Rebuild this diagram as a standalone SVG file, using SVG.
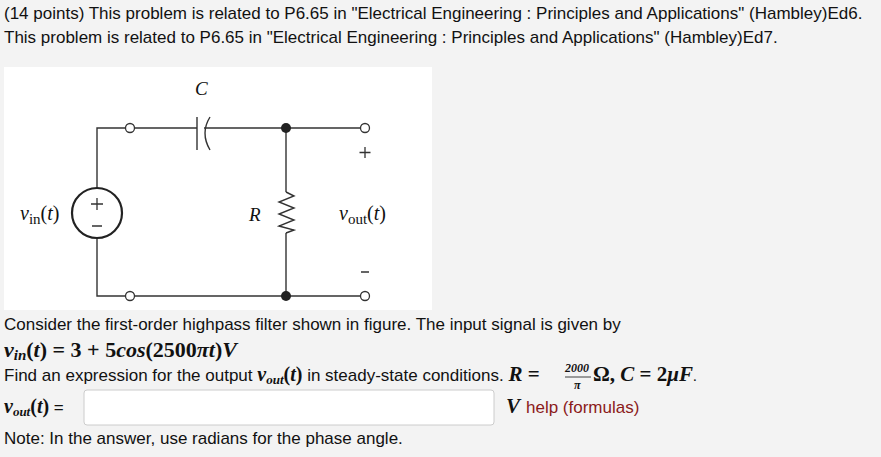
<svg xmlns="http://www.w3.org/2000/svg" width="881" height="457" viewBox="0 0 881 457">
<style>
.t{font-family:"Liberation Sans",Arial,sans-serif;font-size:17px;fill:#111}
.m{font-family:"Liberation Serif","Times New Roman",serif;font-style:italic;fill:#111}
.w{stroke:#333;stroke-width:1.4;fill:none}
.o{fill:#fff;stroke:#333;stroke-width:1.3}
.d{fill:#222}
</style>
<rect width="881" height="457" fill="#f3f3f3"/>
<text class="t" x="4" y="19">(14 points) This problem is related to P6.65 in "Electrical Engineering : Principles and Applications" (Hambley)Ed6.</text>
<text class="t" x="4" y="43">This problem is related to P6.65 in "Electrical Engineering : Principles and Applications" (Hambley)Ed7.</text>
<rect x="4" y="67" width="428" height="243" fill="#fff"/>
<g id="connectors">
<path class="w" d="M130 128H97V188M97 238V296H130M130 128H197M204 128H286H365M286 128V192M286 233V296M130 296H365"/>
</g>
<g id="capacitor">
<line class="w" x1="197" y1="117" x2="197" y2="150" stroke-width="2"/>
<path class="w" d="M210 117Q200 133 210 150" stroke-width="2"/>
<text class="m" x="195" y="95" font-size="19" fill="#1a3d6e">C</text>
</g>
<g id="resistor">
<path class="w" d="M286 192L294 196L279 202L294 208L279 214L294 220L279 226L294 230L286 233" stroke-width="2"/>
<text class="m" x="249" y="221" font-size="19">R</text>
</g>
<g id="source">
<circle cx="97" cy="213" r="25" fill="#fff" stroke="#222" stroke-width="2.2"/>
<path d="M97 198V210M91 204H103M92 226H102" stroke="#333" stroke-width="1.3"/>
<text class="m" x="20" y="220" font-size="20">v<tspan font-style="normal" font-size="15" dy="4">in</tspan><tspan font-style="normal" dy="-4">(</tspan>t<tspan font-style="normal">)</tspan></text>
</g>
<g id="terminals">
<circle class="o" cx="130" cy="128" r="4.5"/><circle class="o" cx="130" cy="296" r="4.5"/>
<circle class="o" cx="365" cy="128" r="4.5"/><circle class="o" cx="365" cy="296" r="4.5"/>
<circle class="d" cx="286" cy="128" r="5"/><circle class="d" cx="286" cy="296" r="5"/>
<path d="M365 147V158M359.5 152.5H370.5M361 272H369" stroke="#333" stroke-width="1.3"/>
<text class="m" x="339" y="220" font-size="20">v<tspan font-style="normal" font-size="15" dy="4">out</tspan><tspan font-style="normal" dy="-4">(</tspan>t<tspan font-style="normal">)</tspan></text>
</g>
<text class="t" x="4" y="330">Consider the first-order highpass filter shown in figure. The input signal is given by</text>
<text class="m" x="4" y="357" font-size="22" font-weight="bold">v<tspan font-size="15" dy="3">in</tspan><tspan dy="-3" font-style="normal">(</tspan>t<tspan font-style="normal">) = 3 + 5</tspan>cos<tspan font-style="normal">(2500</tspan>πt<tspan font-style="normal">)</tspan>V</text>
<text class="t" x="4" y="381">Find an expression for the output <tspan class="m" font-size="20" font-weight="bold">v<tspan font-size="13" dy="3">out</tspan><tspan dy="-3" font-style="normal">(</tspan>t<tspan font-style="normal">)</tspan></tspan> in steady-state conditions. <tspan class="m" font-size="21" font-weight="bold">R<tspan font-style="normal"> =</tspan></tspan></text>
<text class="m" x="565" y="372" font-size="12" font-weight="bold" font-style="normal">2000</text>
<line x1="565" y1="377" x2="591" y2="377" stroke="#111" stroke-width="0.8"/>
<text class="m" x="574" y="389" font-size="12" font-weight="bold">π</text>
<text class="m" x="593" y="381" font-size="21" font-weight="bold"><tspan font-style="normal">Ω,</tspan> C<tspan font-style="normal"> = 2</tspan>μF<tspan font-style="normal" font-weight="normal" font-size="15">.</tspan></text>
<text class="m" x="4" y="413" font-size="20" font-weight="bold">v<tspan font-size="13" dy="3">out</tspan><tspan dy="-3" font-style="normal">(</tspan>t<tspan font-style="normal">)</tspan><tspan class="t" font-style="normal" font-weight="normal" font-size="16"> =</tspan></text>
<rect x="84" y="390" width="410" height="35" rx="3" fill="#fff" stroke="#ccc"/>
<text class="m" x="506" y="413" font-size="21" font-weight="bold">V</text>
<text class="t" x="526" y="413" style="fill:#8b1a1a">help (formulas)</text>
<text class="t" x="4" y="444">Note: In the answer, use radians for the phase angle.</text>
</svg>
